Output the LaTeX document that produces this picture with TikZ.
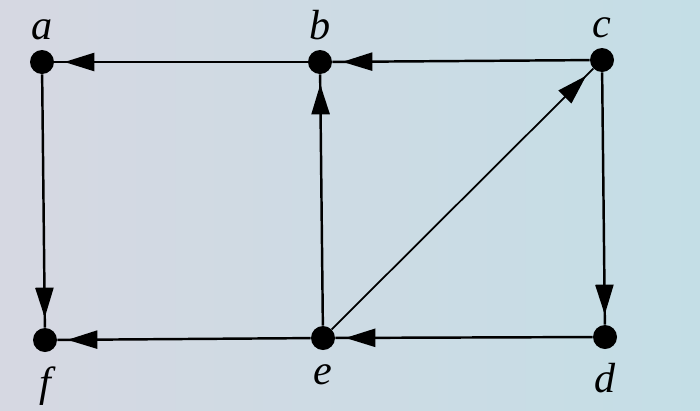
\documentclass[tikz,border=0pt]{standalone}
\usepackage{fontspec}
\setmainfont{Liberation Serif}
\usetikzlibrary{arrows.meta,decorations.markings}
\definecolor{bgleft}{RGB}{214,216,226}
\definecolor{bgright}{RGB}{196,222,230}
\tikzset{
  vtx/.style={circle, fill, inner sep=0pt, minimum size=0.48cm},
  lbl/.style={font=\fontsize{24}{26}\selectfont\itshape, label distance=0.08cm},
  lblb/.style={lbl, label distance=0.16cm},
  edge/.style={line width=1.4pt, postaction={decorate},
    decoration={markings, mark=at position -0.2cm with {\arrow{Triangle[length=0.6cm,width=0.36cm]}}}}
}
\begin{document}
\begin{tikzpicture}[x=0.02cm, y=-0.02cm]
\shade[left color=bgleft, right color=bgright] (0,0) rectangle (700,410);
\useasboundingbox (0,0) rectangle (700,410);
\node[vtx, label={[lbl]above:a}] (a) at (42,62){};
\node[vtx, label={[lbl]above:b}] (b) at (320,62){};
\node[vtx, label={[lbl]above:c}] (c) at (602,60){};
\node[vtx, label={[lblb]below:f}] (f) at (45,340){};
\node[vtx, label={[lblb]below:e}] (e) at (323,338){};
\node[vtx, label={[lblb]below:d}] (d) at (605,337){};
\draw[edge](b) -- (a);
\draw[edge](c) -- (b);
\draw[edge](a) -- (f);
\draw[edge](e) -- (b);
\draw[edge, line width=1pt](e) -- (c);
\draw[edge](c) -- (d);
\draw[edge](e) -- (f);
\draw[edge](d) -- (e);
\end{tikzpicture}
\end{document}
